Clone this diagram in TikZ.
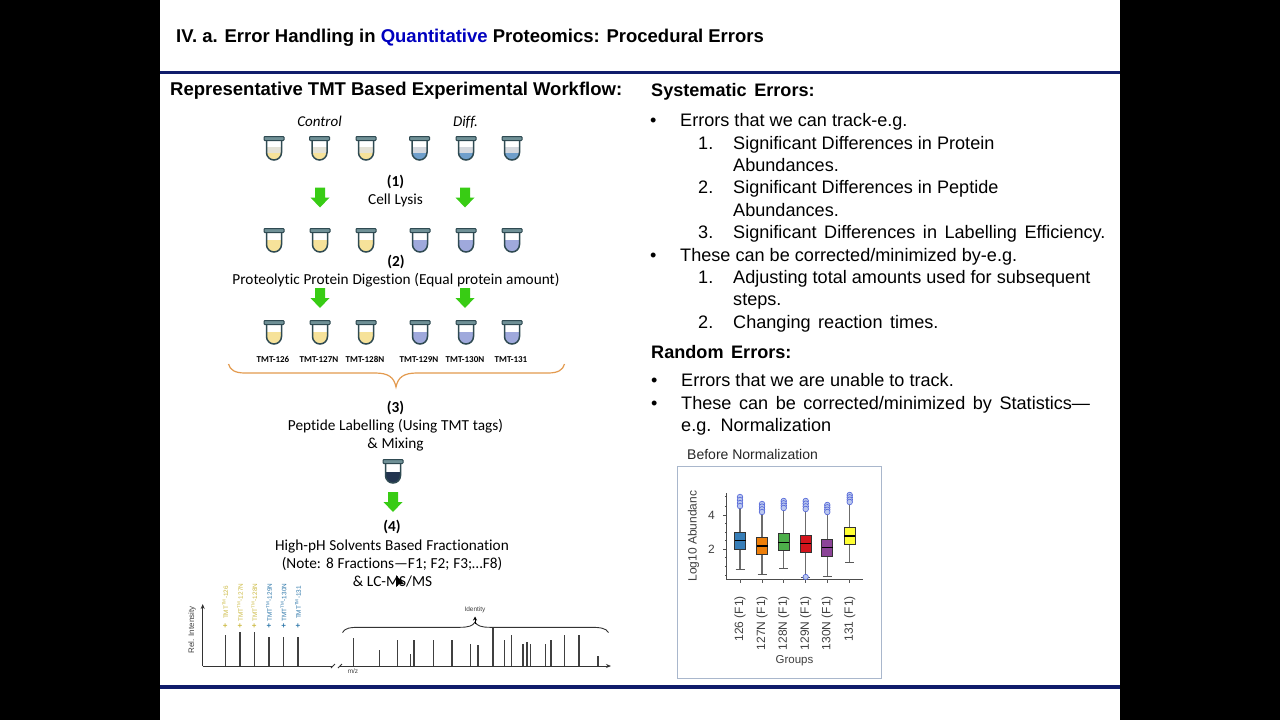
\documentclass[tikz,border=0pt]{standalone}
\usepackage{fontspec}
\usetikzlibrary{arrows.meta}
\setmainfont{Liberation Sans}[WordSpace=1.5]
\newfontfamily\titlefont{Liberation Sans}[WordSpace=.8]
\newfontfamily\tightfont{Liberation Sans}[WordSpace=1.25]
\newfontfamily\calfont{Carlito}[WordSpace=1.1,RawFeature=-liga]
\newfontfamily\plainar{Liberation Sans}
\definecolor{navy}{HTML}{101C6B}
\definecolor{tubeline}{HTML}{2F4A52}
\definecolor{tubecap}{HTML}{6F9096}
\definecolor{gr}{HTML}{38CC14}
\definecolor{brc}{HTML}{E39A4E}
\definecolor{ylq}{HTML}{F6E29A}
\definecolor{ylg}{HTML}{E4E2D6}
\definecolor{blq}{HTML}{9FA9DC}
\definecolor{blb}{HTML}{6F9FCB}
\definecolor{blg}{HTML}{D4D8DE}
\definecolor{tubedk}{HTML}{22344F}
\definecolor{yt}{HTML}{CDBB45}
\definecolor{bt}{HTML}{2F78AA}
\definecolor{boxfr}{HTML}{A9B7CC}
\definecolor{outl}{HTML}{4F62D8}
\definecolor{outf}{HTML}{B9C6EE}
\definecolor{bxa}{HTML}{377EB8}
\definecolor{bxb}{HTML}{EE7F0A}
\definecolor{bxc}{HTML}{4DAF4A}
\definecolor{bxd}{HTML}{D4141C}
\definecolor{bxe}{HTML}{8C4498}
\definecolor{bxf}{HTML}{FFFF33}
\newcommand{\tubebody}{(-7.5,5) -- (-7.5,16.5) arc[start angle=180,end angle=0,radius=7.5] -- (7.5,5)}
\newcommand{\tubetop}{\draw[tubeline,line width=1.5pt] \tubebody;
\draw[tubeline,fill=tubecap,line width=1pt,rounded corners=.8pt] (-10,.5) rectangle (10,4.5);}
\newcommand{\tube}[4]{% x, ytop, top-layer colour, bottom colour
\begin{scope}[shift={(#1,#2)}]
\begin{scope}
\clip \tubebody -- cycle;
\fill[#3] (-8,11) rectangle (8,25);
\fill[#4] (-8,16.5) rectangle (8,25);
\end{scope}
\tubetop
\end{scope}}
\newcommand{\tubeb}[4]{% x, ytop, colour, level
\begin{scope}[shift={(#1,#2)}]
\begin{scope}
\clip \tubebody -- cycle;
\fill[#3] (-8,#4) rectangle (8,25);
\end{scope}
\tubetop
\end{scope}}
\newcommand{\garrow}[2]{\fill[gr] (#1-5,#2) -- (#1+5,#2) -- (#1+5,#2+10) -- (#1+9.5,#2+10) -- (#1,#2+20) -- (#1-9.5,#2+10) -- (#1-5,#2+10) -- cycle;}
\newcommand{\bxp}[9]{% x, wh, top, med, bottom, wl, colour, out1, out2
\draw[gray!85!black,line width=1.4pt] (#1,#2) -- (#1,#6);
\draw[black!65,line width=.9pt] (#1-4.5,#6) -- (#1+4.5,#6);
\draw[black!80,fill=#7,line width=.7pt] (#1-5.5,#3) rectangle (#1+5.5,#5);
\draw[black,line width=1.2pt] (#1-5.5,#4) -- (#1+5.5,#4);
\foreach \oo in {0,.33,.67,1} \draw[outl,fill=outf,line width=.6pt] (#1,{#8+\oo*(#9-#8)}) circle[radius=2.8];
\draw[black!65,line width=.7pt] (#1,579) -- (#1,583);
}
\tikzset{
 cal/.style={font=\calfont\fontsize{15.3}{15.3}\selectfont,inner sep=0pt,anchor=base},
 calit/.style={font=\calfont\itshape\fontsize{15}{15}\selectfont,inner sep=0pt,anchor=base},
 rt/.style={font=\fontsize{18.1}{18.1}\selectfont,anchor=base west,inner sep=0pt},
 rtt/.style={font=\tightfont\fontsize{18.1}{18.1}\selectfont,anchor=base west,inner sep=0pt},
 hd/.style={font=\bfseries\fontsize{18.1}{18.1}\selectfont,anchor=base west,inner sep=0pt},
 hdt/.style={font=\titlefont\bfseries\fontsize{18.5}{18.5}\selectfont,anchor=base west,inner sep=0pt},
 tmt/.style={font=\calfont\bfseries\fontsize{9}{9}\selectfont,inner sep=0pt,anchor=base},
 rep/.style={font=\plainar\fontsize{6.4}{6.4}\selectfont,rotate=90,inner sep=0pt,anchor=center},
 ax/.style={line width=1pt,black!80},
 pk/.style={line width=1.1pt,black!75},
 xl/.style={font=\plainar\fontsize{12}{12}\selectfont,rotate=90,anchor=east,inner sep=0pt,black!75},
}
\begin{document}
\begin{tikzpicture}[x=1pt,y=-1pt]
\useasboundingbox (0,0) rectangle (1280,720);
\fill[black] (0,0) rectangle (1280,720);
\fill[white] (160,0) rectangle (1120,720);
% rules
\fill[navy] (160,71) rectangle (1120,74);
\fill[navy] (160,685) rectangle (1120,689);
% title
\node[hdt] (title) at (176,42.7) {IV. a. Error Handling in \textcolor{blue!75!black}{Quantitative} Proteomics: Procedural Errors};
\node[hdt] (lefthead) at (170,95.3) {Representative TMT Based Experimental Workflow:};
% left column
\node[calit] (ctl) at (319.5,126) {Control};
\node[calit] (dif) at (465.5,126) {Diff.};
\tube{274}{136}{ylg}{ylq}
\tube{319.5}{136}{ylg}{ylq}
\tube{366}{136}{ylg}{ylq}
\tube{419.5}{136}{blg}{blb}
\tube{466}{136}{blg}{blb}
\tube{512}{136}{blg}{blb}
\node[cal] (s1) at (395.5,186) {\bfseries (1)};
\node[cal] (s1t) at (395.5,204.3) {Cell Lysis};
\garrow{320}{187.5}\garrow{465}{187.5}
\tubeb{274}{228}{ylq}{12}
\tubeb{320}{228}{ylq}{12}
\tubeb{366}{228}{ylq}{12}
\tubeb{420}{228}{blq}{12}
\tubeb{466}{228}{blq}{12}
\tubeb{512}{228}{blq}{12}
\node[cal] (s2) at (396,266.7) {\bfseries (2)};
\node[cal] (s2t) at (396,284.8) {Proteolytic Protein Digestion (Equal protein amount)};
\garrow{320}{288}\garrow{465}{288}
\tubeb{274}{320}{ylq}{12}
\tubeb{320}{320}{ylq}{12}
\tubeb{366}{320}{ylq}{12}
\tubeb{420}{320}{blq}{12}
\tubeb{466}{320}{blq}{12}
\tubeb{512}{320}{blq}{12}
\node[tmt] (t1) at (273,362.5) {TMT-126};
\node[tmt] (t2) at (319,362.5) {TMT-127N};
\node[tmt] (t3) at (365,362.5) {TMT-128N};
\node[tmt] (t4) at (419,362.5) {TMT-129N};
\node[tmt] (t5) at (465,362.5) {TMT-130N};
\node[tmt] (t6) at (511,362.5) {TMT-131};
\draw[brc,line width=1.2pt] (228.5,364) .. controls (230,370) and (235,373) .. (245,373) -- (375,373) .. controls (388,373) and (394,377) .. (396,387) .. controls (398,377) and (404,373) .. (417,373) -- (548,373) .. controls (558,373) and (563,370) .. (564.5,364);
\node[cal] (s3) at (395.5,412.3) {\bfseries (3)};
\node[cal] (s3t) at (395.5,430.3) {Peptide Labelling (Using TMT tags)};
\node[cal] (s3m) at (395.5,448.5) {\& Mixing};
\tubeb{393}{459}{tubedk}{13}
\garrow{393}{492}
\node[cal] (s4) at (392,531) {\bfseries (4)};
\node[cal] (s4t) at (392,550) {High-pH Solvents Based Fractionation};
\node[cal] (s4n) at (392,568.5) {(Note: 8 Fractions—F1; F2; F3;…F8)};
\node[cal] (s4l) at (392.5,586) {\& LC-MS/MS};
% cursor
\fill[black] (396,575) -- (396,587) -- (399,584) -- (404,584) -- cycle;
% spectrum
\node[font=\plainar\fontsize{8}{8}\selectfont,rotate=90,inner sep=0pt,black!75] (ri) at (192,630) {Rel. Intensity};
\node[font=\plainar\fontsize{6.5}{6.5}\selectfont,inner sep=0pt,black!75] (mz) at (353,671.5) {m/z};
\node[font=\plainar\fontsize{6.5}{6.5}\selectfont,inner sep=0pt,black!75] (id) at (475,610) {Identity};
\coordinate (o) at (202.7,666);
\coordinate (yt) at (202.7,604);
\coordinate (xb) at (333,666);
\coordinate (xc) at (340,666);
\coordinate (xtip) at (611,666);
\draw[ax,-{Stealth[length=5pt,width=4pt]}] (o) -- (yt);
\draw[ax] (o) -- (xb);
\draw[ax,-{Stealth[length=5pt,width=4pt]}] (xc) -- (xtip);
\draw[ax] (331,668) -- (335,664);
\draw[ax] (338,668) -- (342,664);
\foreach \xx/\ty in {136/195,180/187,223/187,267/202,310/202,354/202,520/203,598/240,652/211,692/252,702/211,760/211,816/211,872/223,894/225,939/175,974/211,995/196,1029/223,1041/217,1052/223,1097/223,1113/211,1154/195,1197/194,1254/258}
  \draw[pk] ({180+\xx/3},666) -- ({180+\xx/3},{570+\ty/3});
\foreach \xx/\cc/\lb in {225.3/yt/126,240/yt/127N,254.3/yt/128N,269/bt/129N,283.7/bt/130N,298/bt/131}{
  \node[rep,text=\cc] at (\xx,602.5) {TMT\textsuperscript{TM}-\lb};
  \node[font=\plainar\bfseries\fontsize{8}{8}\selectfont,inner sep=0pt,text=\cc] at (\xx,626.5) {+};
}
\draw[black!80,line width=.9pt] (342.5,632.5) .. controls (345,628) and (350,627.3) .. (360,627.3) -- (460,627.3) .. controls (468,627.3) and (473,626) .. (475,622) .. controls (477,626) and (482,627.3) .. (490,627.3) -- (590,627.3) .. controls (600,627.3) and (606,628) .. (608.5,632.5);
\draw[black,line width=.9pt,-{Stealth[length=4pt,width=4pt]}] (475,624) -- (475,616.5);
% right column
\node[hd] (sys) at (651,96) {Systematic Errors:};
\node[rt] at (650,126.7) {•};
\node[rtt] (a1) at (680,126.7) {Errors that we can track-e.g.};
\node[rt] at (698,149) {1.};
\node[rtt] at (733,149) {Significant Differences in Protein};
\node[rt] at (733,171.4) {Abundances.};
\node[rt] at (698,193.8) {2.};
\node[rtt] at (733,193.8) {Significant Differences in Peptide};
\node[rt] at (733,216.2) {Abundances.};
\node[rt] at (698,238.6) {3.};
\node[rt] at (733,238.6) {Significant Differences in Labelling Efficiency.};
\node[rt] at (650,261) {•};
\node[rtt] at (680,261) {These can be corrected/minimized by-e.g.};
\node[rt] at (698,283.4) {1.};
\node[rtt] at (733,283.4) {Adjusting total amounts used for subsequent};
\node[rt] at (733,305.8) {steps.};
\node[rt] at (698,328.2) {2.};
\node[rt] at (733,328.2) {Changing reaction times.};
\node[hd] (rnd) at (651,358.5) {Random Errors:};
\node[rt] at (651,386.3) {•};
\node[rtt] at (681,386.3) {Errors that we are unable to track.};
\node[rt] at (651,409) {•};
\node[rt] at (681,409) {These can be corrected/minimized by Statistics—};
\node[rt] at (681,431.3) {e.g. Normalization};
% boxplot
\node[anchor=base west,inner sep=0pt,font=\plainar\fontsize{14}{14}\selectfont,black!85] (bn) at (687,459) {Before Normalization};
\draw[boxfr,line width=1pt] (677,466) rectangle (881,678);
\draw[black!70,line width=.8pt] (726.7,493) -- (726.7,579) -- (863,579);
\foreach \yy/\lb in {110/2,139/2,165/4,190/2,216/2,242/2,268/4,293/2,319/2,345/2}
  \draw[black!70,line width=.7pt] (726.7,{460+\yy/3}) -- ++({-\lb},0);
\node[inner sep=0pt,font=\plainar\fontsize{12}{12}\selectfont,black!75] (y4) at (711.5,515) {4};
\node[inner sep=0pt,font=\plainar\fontsize{12}{12}\selectfont,black!75] (y2) at (711.5,549) {2};
\node[inner sep=0pt,font=\plainar\fontsize{12}{12}\selectfont,rotate=90,black!75] (yl) at (693.5,536) {Log10 Abundanc};
\bxp{740}{505}{532.3}{540.7}{549.7}{569.7}{bxa}{497}{506}
\bxp{762}{512}{537.3}{546}{554.7}{574.3}{bxb}{504}{512}
\bxp{783.7}{510}{533.7}{542.3}{550.7}{568.3}{bxc}{501}{508}
\bxp{805.7}{510}{535.7}{543.3}{552.3}{577}{bxd}{501}{509}
\bxp{827.3}{513}{539}{547.3}{556}{576.7}{bxe}{505}{512}
\bxp{849.7}{503}{527.7}{536}{544.7}{562.3}{bxf}{495}{502}
\draw[outl,fill=outf,line width=.6pt] (805.7,577) circle[radius=2.7];
\node[xl] at (740,596) {126 (F1)};
\node[xl] at (762,596) {127N (F1)};
\node[xl] at (783.7,596) {128N (F1)};
\node[xl] at (805.7,596) {129N (F1)};
\node[xl] at (827.3,596) {130N (F1)};
\node[xl] at (849.7,596) {131 (F1)};
\node[anchor=base,inner sep=0pt,font=\plainar\fontsize{11.5}{11.5}\selectfont,black!75] (gp) at (794.5,663) {Groups};
\end{tikzpicture}
\end{document}
